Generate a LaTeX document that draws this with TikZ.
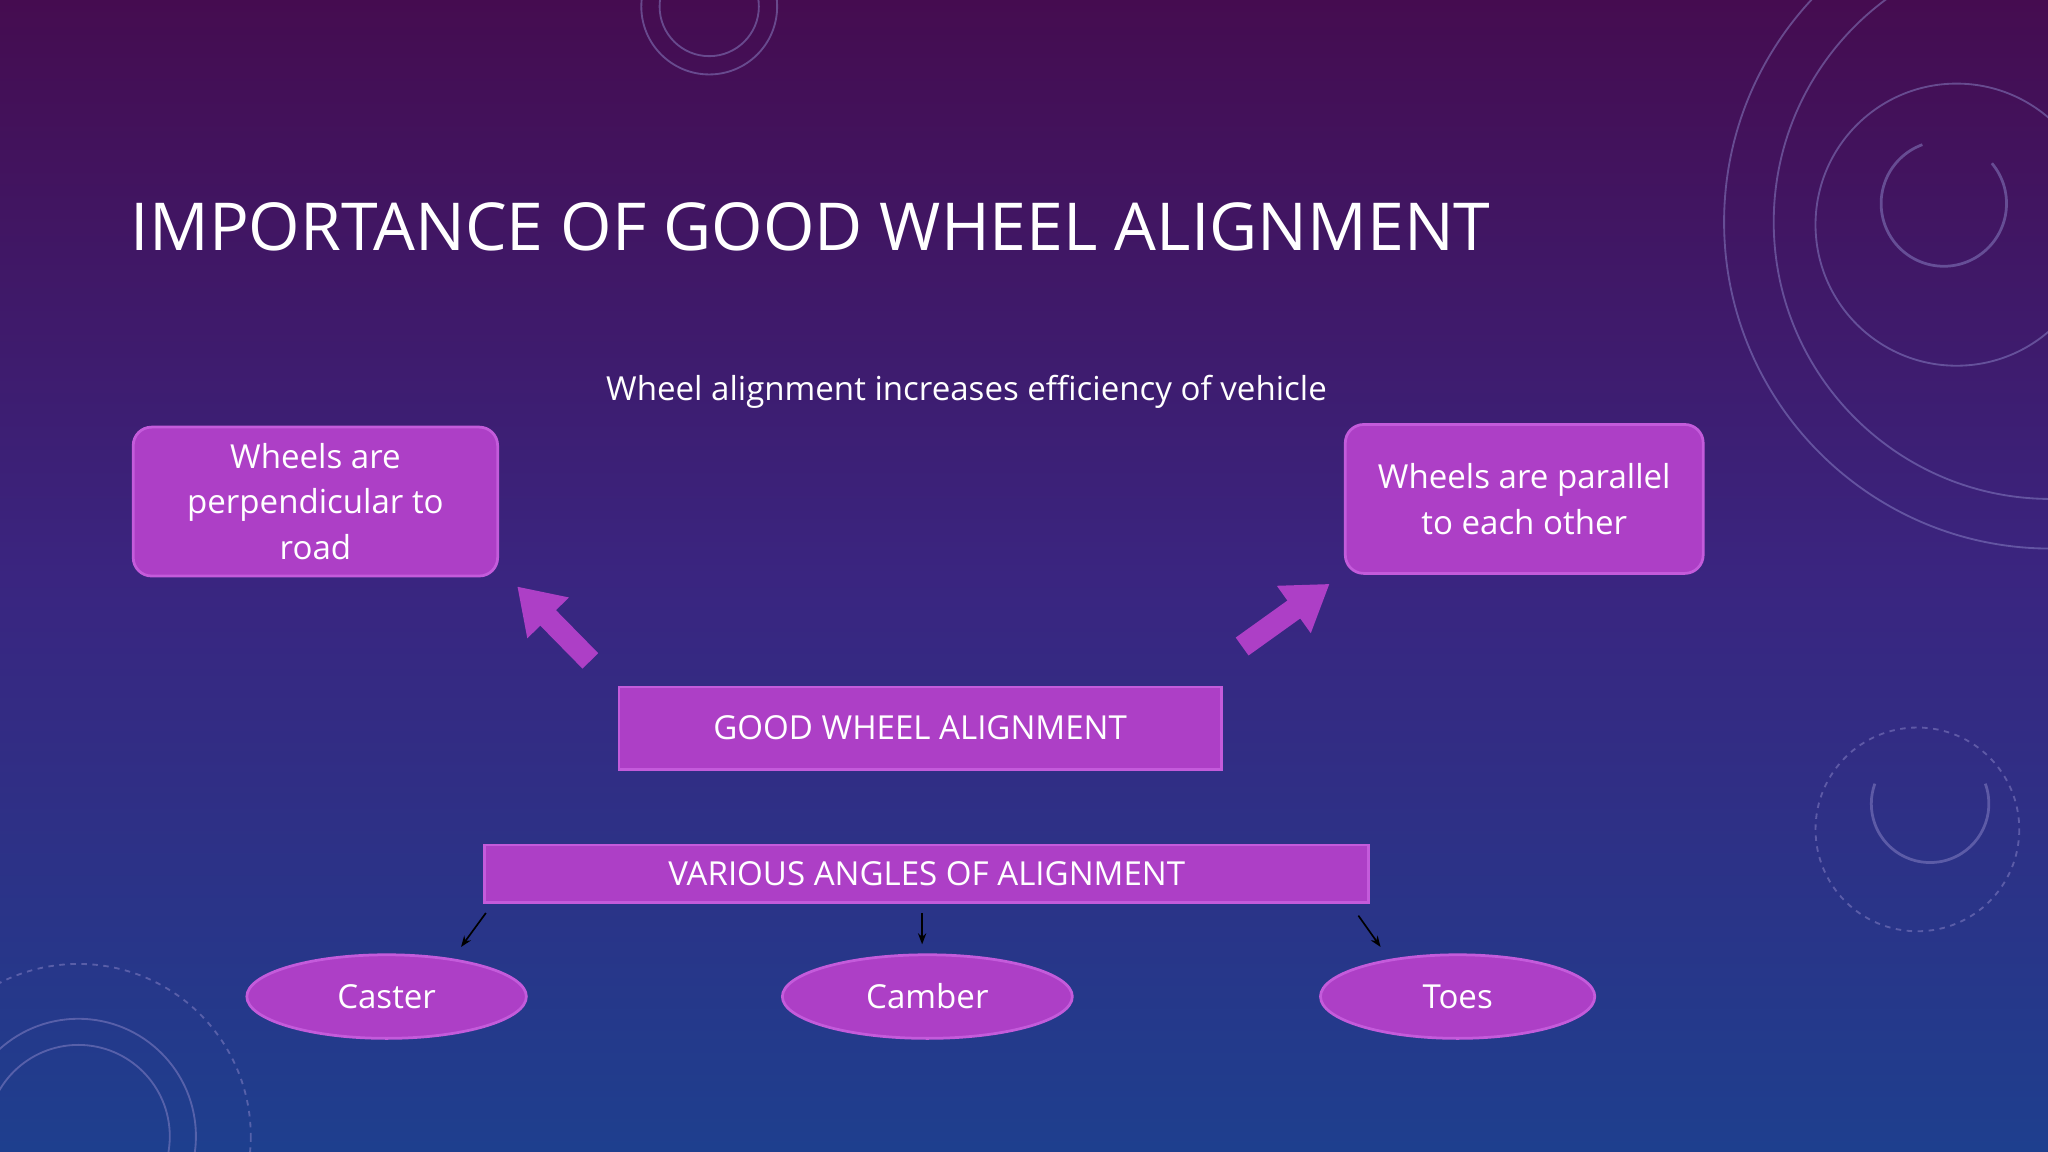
\documentclass[tikz,border=0pt]{standalone}
\usepackage{fontspec}
\setmainfont{Open Sans}
\usetikzlibrary{shapes.geometric,arrows.meta,calc}
\definecolor{boxfill}{HTML}{AD3FC6}
\definecolor{boxline}{HTML}{C45BDB}
\definecolor{bgtop}{HTML}{450C50}
\definecolor{bgmid}{HTML}{3A2580}
\definecolor{bgbot}{HTML}{1E3F8E}
\definecolor{deco}{HTML}{8C86C8}
\tikzset{
  rbox/.style={draw=boxline,line width=1.5pt,fill=boxfill,rounded corners=10pt,text=white,align=center,font=\fontsize{18}{25}\selectfont,inner sep=0pt},
  sbox/.style={draw=boxline,line width=1.5pt,fill=boxfill,text=white,font=\fontsize{18}{24}\selectfont,inner sep=0pt},
  ell/.style={ellipse,draw=boxline,line width=1.5pt,fill=boxfill,text=white,font=\fontsize{18}{24}\selectfont,inner sep=0pt},
  bigarrow/.style={boxfill,line width=12pt,-{Triangle[width=30pt,length=24pt]}},
  smallarrow/.style={black,line width=0.9pt,-{Stealth[length=6pt]}},
  decoline/.style={draw=deco,opacity=0.5,line width=1pt}
}
\begin{document}
\begin{tikzpicture}[x=0.025cm,y=-0.025cm]
\useasboundingbox (0,0) rectangle (1568,882);
\shade[top color=bgtop,bottom color=bgbot,middle color=bgmid] (0,0) rectangle (1568,882);
% decorative arcs
\draw[decoline] (1570,170) circle (250);
\draw[decoline] (1570,170) circle (212);
\draw[decoline] (1498,172) circle (108);
\draw[decoline,line width=1.5pt] (1525,125) arc (-40:250:48);
\draw[decoline,dashed] (1468,635) circle (78);
\draw[decoline,line width=1.5pt] (1520,600) arc (-20:200:45);
\draw[decoline] (60,870) circle (70);
\draw[decoline] (60,870) circle (90);
\draw[decoline,dashed] (60,870) circle (132);
\draw[decoline] (543,5) circle (52);
\draw[decoline] (543,5) circle (38);
% title
\node[anchor=base west,text=white,font=\fontsize{36}{44}\selectfont,inner sep=0pt] (title) at (100,192) {IMPORTANCE OF GOOD WHEEL ALIGNMENT};
\node[text=white,font=\fontsize{18}{24}\selectfont] (sub) at (740,300) {Wheel alignment increases efficiency of vehicle};
\node[rbox,minimum width=279*0.025cm,minimum height=114*0.025cm] (perp) at (241.5,384) {Wheels are\\perpendicular to\\road};
\node[rbox,minimum width=274*0.025cm,minimum height=114*0.025cm] (par) at (1167,382) {Wheels are parallel\\to each other};
\node[sbox,minimum width=461*0.025cm,minimum height=63*0.025cm] (good) at (704.5,557.5) {GOOD WHEEL ALIGNMENT};
\node[sbox,minimum width=677*0.025cm,minimum height=44*0.025cm] (var) at (709.5,669) {VARIOUS ANGLES OF ALIGNMENT};
\node[ell,minimum width=214*0.025cm,minimum height=64*0.025cm] (caster) at (296,763) {Caster};
\node[ell,minimum width=222*0.025cm,minimum height=64*0.025cm] (camber) at (710,763) {Camber};
\node[ell,minimum width=210*0.025cm,minimum height=64*0.025cm] (toes) at (1116,763) {Toes};
\coordinate (la) at (452,506);
\coordinate (lb) at (396,449);
\coordinate (ra) at (951,495);
\coordinate (rb) at (1018,447);
\draw[bigarrow] (la) -- (lb);
\draw[bigarrow] (ra) -- (rb);
\coordinate (s1) at (372,699); \coordinate (e1) at (353,725);
\coordinate (s2) at (706,699); \coordinate (e2) at (706,723);
\coordinate (s3) at (1040,701); \coordinate (e3) at (1057,725);
\draw[smallarrow] (s1) -- (e1);
\draw[smallarrow] (s2) -- (e2);
\draw[smallarrow] (s3) -- (e3);
\end{tikzpicture}
\end{document}
